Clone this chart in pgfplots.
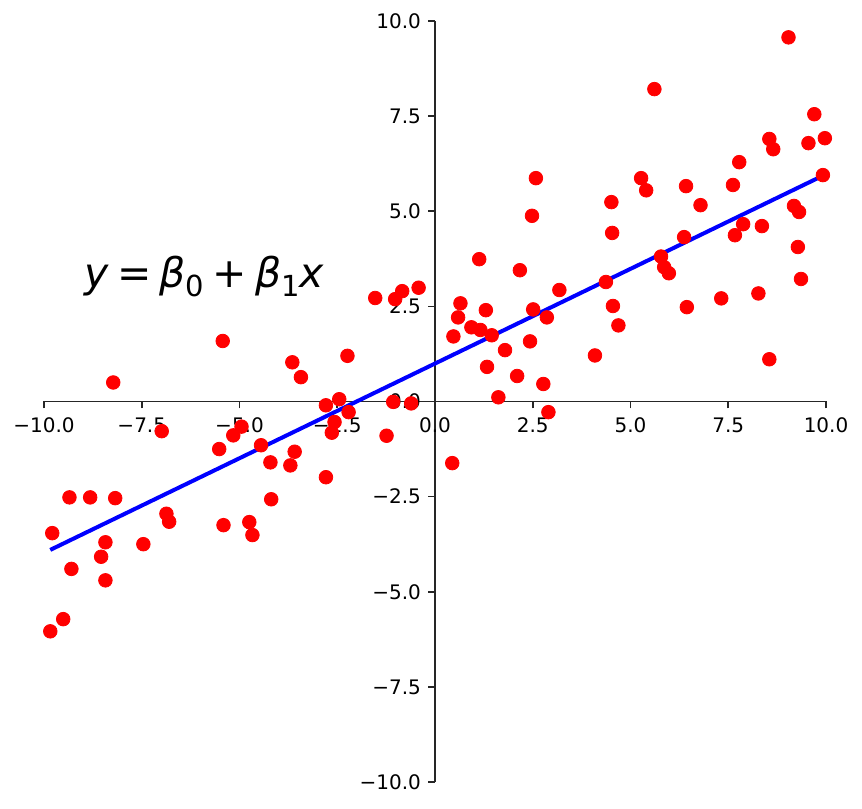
\documentclass[border=0pt]{standalone}
\usepackage{fontspec}
\setmainfont{DejaVu Sans}
\usepackage{pgfplots}
\pgfplotsset{compat=1.18}

\begin{document}
\begin{tikzpicture}
\begin{axis}[
  scale only axis, width=391pt, height=380.5pt,
  xmin=-10, xmax=10, ymin=-10, ymax=10,
  axis lines=middle, axis line style={-, line width=0.8pt, black!85},
  tick align=outside, major tick length=3.5pt,
  every tick/.style={black!85, line width=0.8pt},
  xtick={-10,-7.5,...,10}, ytick={-10,-7.5,...,10},
  xticklabels={−10.0,−7.5,−5.0,−2.5,0.0,2.5,5.0,7.5,10.0},
  yticklabels={−10.0,−7.5,−5.0,−2.5,0.0,2.5,5.0,7.5,10.0},
  hide obscured x ticks=false, hide obscured y ticks=false,
  tick label style={font=\fontsize{10}{12}\selectfont},
  x tick label style={yshift=-1pt},
  clip=false,
]
% data points
\addplot[only marks, mark=*, mark size=3.4pt, red] coordinates {
(-9.84,-6.04) (-9.79,-3.46) (-9.51,-5.72) (-9.35,-2.52) (-9.30,-4.40)
(-8.82,-2.52) (-8.54,-4.08) (-8.43,-3.70) (-8.43,-4.70) (-8.23,0.50)
(-8.18,-2.54) (-7.46,-3.75) (-6.99,-0.78) (-6.87,-2.95) (-6.80,-3.16)
(-5.52,-1.25) (-5.43,1.59) (-5.41,-3.25) (-5.16,-0.89) (-4.95,-0.66)
(-4.75,-3.17) (-4.67,-3.51) (-4.45,-1.15) (-4.21,-1.60) (-4.19,-2.57)
(-3.70,-1.68) (-3.65,1.03) (-3.59,-1.32) (-3.43,0.64) (-2.79,-0.10)
(-2.79,-1.99) (-2.64,-0.82) (-2.57,-0.54) (-2.45,0.06) (-2.24,1.20)
(-2.21,-0.28) (-1.53,2.72) (-1.24,-0.90) (-1.07,-0.01) (-1.02,2.69)
(-0.84,2.90) (-0.61,-0.05) (-0.42,2.99)
(0.44,-1.62) (0.47,1.71) (0.59,2.21) (0.65,2.58) (0.93,1.95)
(1.13,3.74) (1.16,1.88) (1.30,2.40) (1.33,0.91) (1.45,1.74)
(1.62,0.11) (1.79,1.35) (2.10,0.67) (2.17,3.45) (2.43,1.58)
(2.48,4.88) (2.51,2.42) (2.58,5.87) (2.77,0.46) (2.86,2.21)
(2.90,-0.28) (3.18,2.93) (4.09,1.21) (4.37,3.14) (4.51,5.24)
(4.53,4.43) (4.55,2.51) (4.69,2.00) (5.27,5.87) (5.40,5.55)
(5.61,8.21) (5.78,3.81) (5.86,3.53) (5.98,3.37) (6.37,4.32)
(6.42,5.66) (6.44,2.48) (6.79,5.16) (7.32,2.71) (7.62,5.69)
(7.67,4.37) (7.78,6.29) (7.88,4.66) (8.27,2.84) (8.36,4.61)
(8.55,6.90) (8.55,1.11) (8.65,6.63) (9.04,9.57) (9.18,5.14)
(9.28,4.06) (9.31,4.98) (9.36,3.22) (9.55,6.79) (9.70,7.55)
(9.92,5.95) (9.97,6.92)
};
% fitted line
\addplot[blue, line width=2pt] coordinates {(-9.84,-3.90) (9.97,5.96)};
\node[anchor=base west, inner sep=0pt, font=\fontsize{20.5}{24}\selectfont]
  at (axis cs:-8.98,3) {\textit{y}\hspace{0.2em}=\hspace{0.2em}\textit{β}\raisebox{-0.22em}{\fontsize{14.5}{14}\selectfont 0}\hspace{0.2em}+\hspace{0.2em}\textit{β}\raisebox{-0.22em}{\fontsize{14.5}{14}\selectfont 1}\textit{x}};
\path (rel axis cs:-0.0563,-0.0342) rectangle (rel axis cs:1.046,1.0276);
\end{axis}
\end{tikzpicture}
\end{document}
